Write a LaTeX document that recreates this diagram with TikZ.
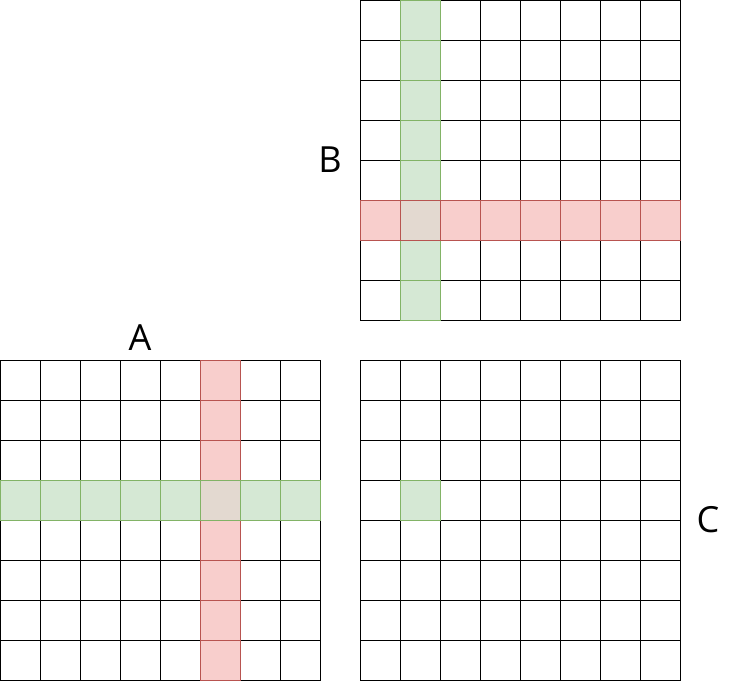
\documentclass[tikz,border=0pt]{standalone}
\usepackage{fontspec}
\setmainfont{Open Sans}
\definecolor{greenfill}{HTML}{D5E8D4}
\definecolor{greenline}{HTML}{82B366}
\definecolor{redfill}{HTML}{F8CECC}
\definecolor{redline}{HTML}{B85450}
\definecolor{mixfill}{HTML}{E3D9D0}
\tikzset{
  greencell/.style={draw=greenline, fill=greenfill},
  redcell/.style={draw=redline, fill=redfill},
  gridlabel/.style={font=\fontsize{27}{30}\selectfont}
}
\begin{document}
\begin{tikzpicture}[x=0.75pt,y=-0.75pt,line width=0.75pt]
\useasboundingbox (0,0) rectangle (740,682);
% the three 8x8 grids
\foreach \gx/\gy in {0/360,360/0,360/360}
  \foreach \i in {0,...,7}
    \foreach \j in {0,...,7}
      \draw (\gx+40*\i,\gy+40*\j) rectangle ++(40,40);
% grid A
\foreach \j in {0,...,7}
  \draw[redcell] (200,360+40*\j) rectangle ++(40,40);
\foreach \i in {0,...,7}
  \draw[greencell] (40*\i,480) rectangle ++(40,40);
\draw[greencell,fill=mixfill] (200,480) rectangle ++(40,40);
% grid B
\foreach \j in {0,...,7}
  \draw[greencell] (400,40*\j) rectangle ++(40,40);
\foreach \i in {0,...,7}
  \draw[redcell] (360+40*\i,200) rectangle ++(40,40);
\draw[redcell,fill=mixfill] (400,200) rectangle ++(40,40);
% grid C
\draw[greencell] (400,480) rectangle ++(40,40);
% labels
\node[gridlabel] (labelA) at (140,338) {A};
\node[gridlabel] (labelB) at (330,160) {B};
\node[gridlabel] (labelC) at (708,520) {C};
\end{tikzpicture}
\end{document}
